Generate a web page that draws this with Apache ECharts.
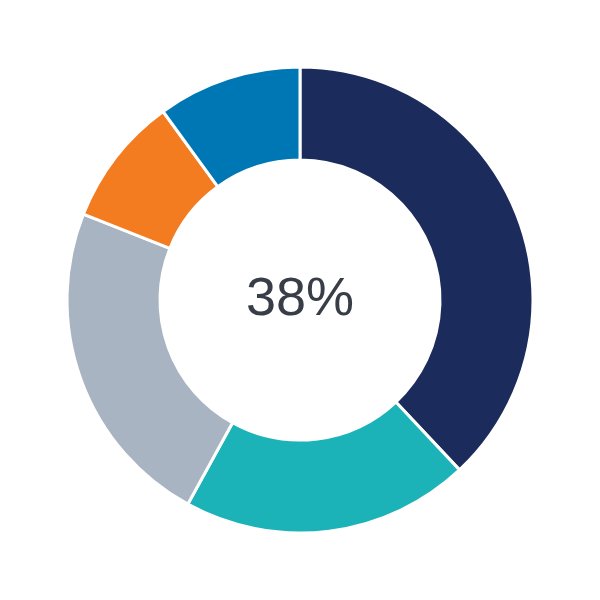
<!DOCTYPE html>
<html><head><meta charset="utf-8">
<script src="https://cdn.jsdelivr.net/npm/echarts@6/dist/echarts.min.js"></script>
<style>html,body{margin:0;padding:0;background:#fff}#c{width:600px;height:600px}</style>
</head><body><div id="c"></div>
<script>
const categories = ['A','B','C','D','E'];
const values = [38, 20, 23, 9, 10];
const colors = ['#1b2b5b','#1bb3b7','#a9b4c2','#f37b20','#0077b5'];
const centerLabel = '38%';

const chart = echarts.init(document.getElementById('c'));
chart.setOption({
  animation: false,
  color: colors,
  title: {
    text: centerLabel, left: 'center', top: 'middle',
    textStyle: {fontFamily: 'Liberation Sans', fontSize: 54, fontWeight: 'normal', color: '#383d47'}
  },
  series: [{
    type: 'pie',
    center: ['50%','50%'],
    radius: [140, 233],
    startAngle: 90,
    clockwise: true,
    label: {show: false},
    labelLine: {show: false},
    itemStyle: {borderColor: '#fff', borderWidth: 3},
    emphasis: {disabled: true},
    data: categories.map((c,i)=>({name:c, value:values[i]}))
  }]
});
</script></body></html>
